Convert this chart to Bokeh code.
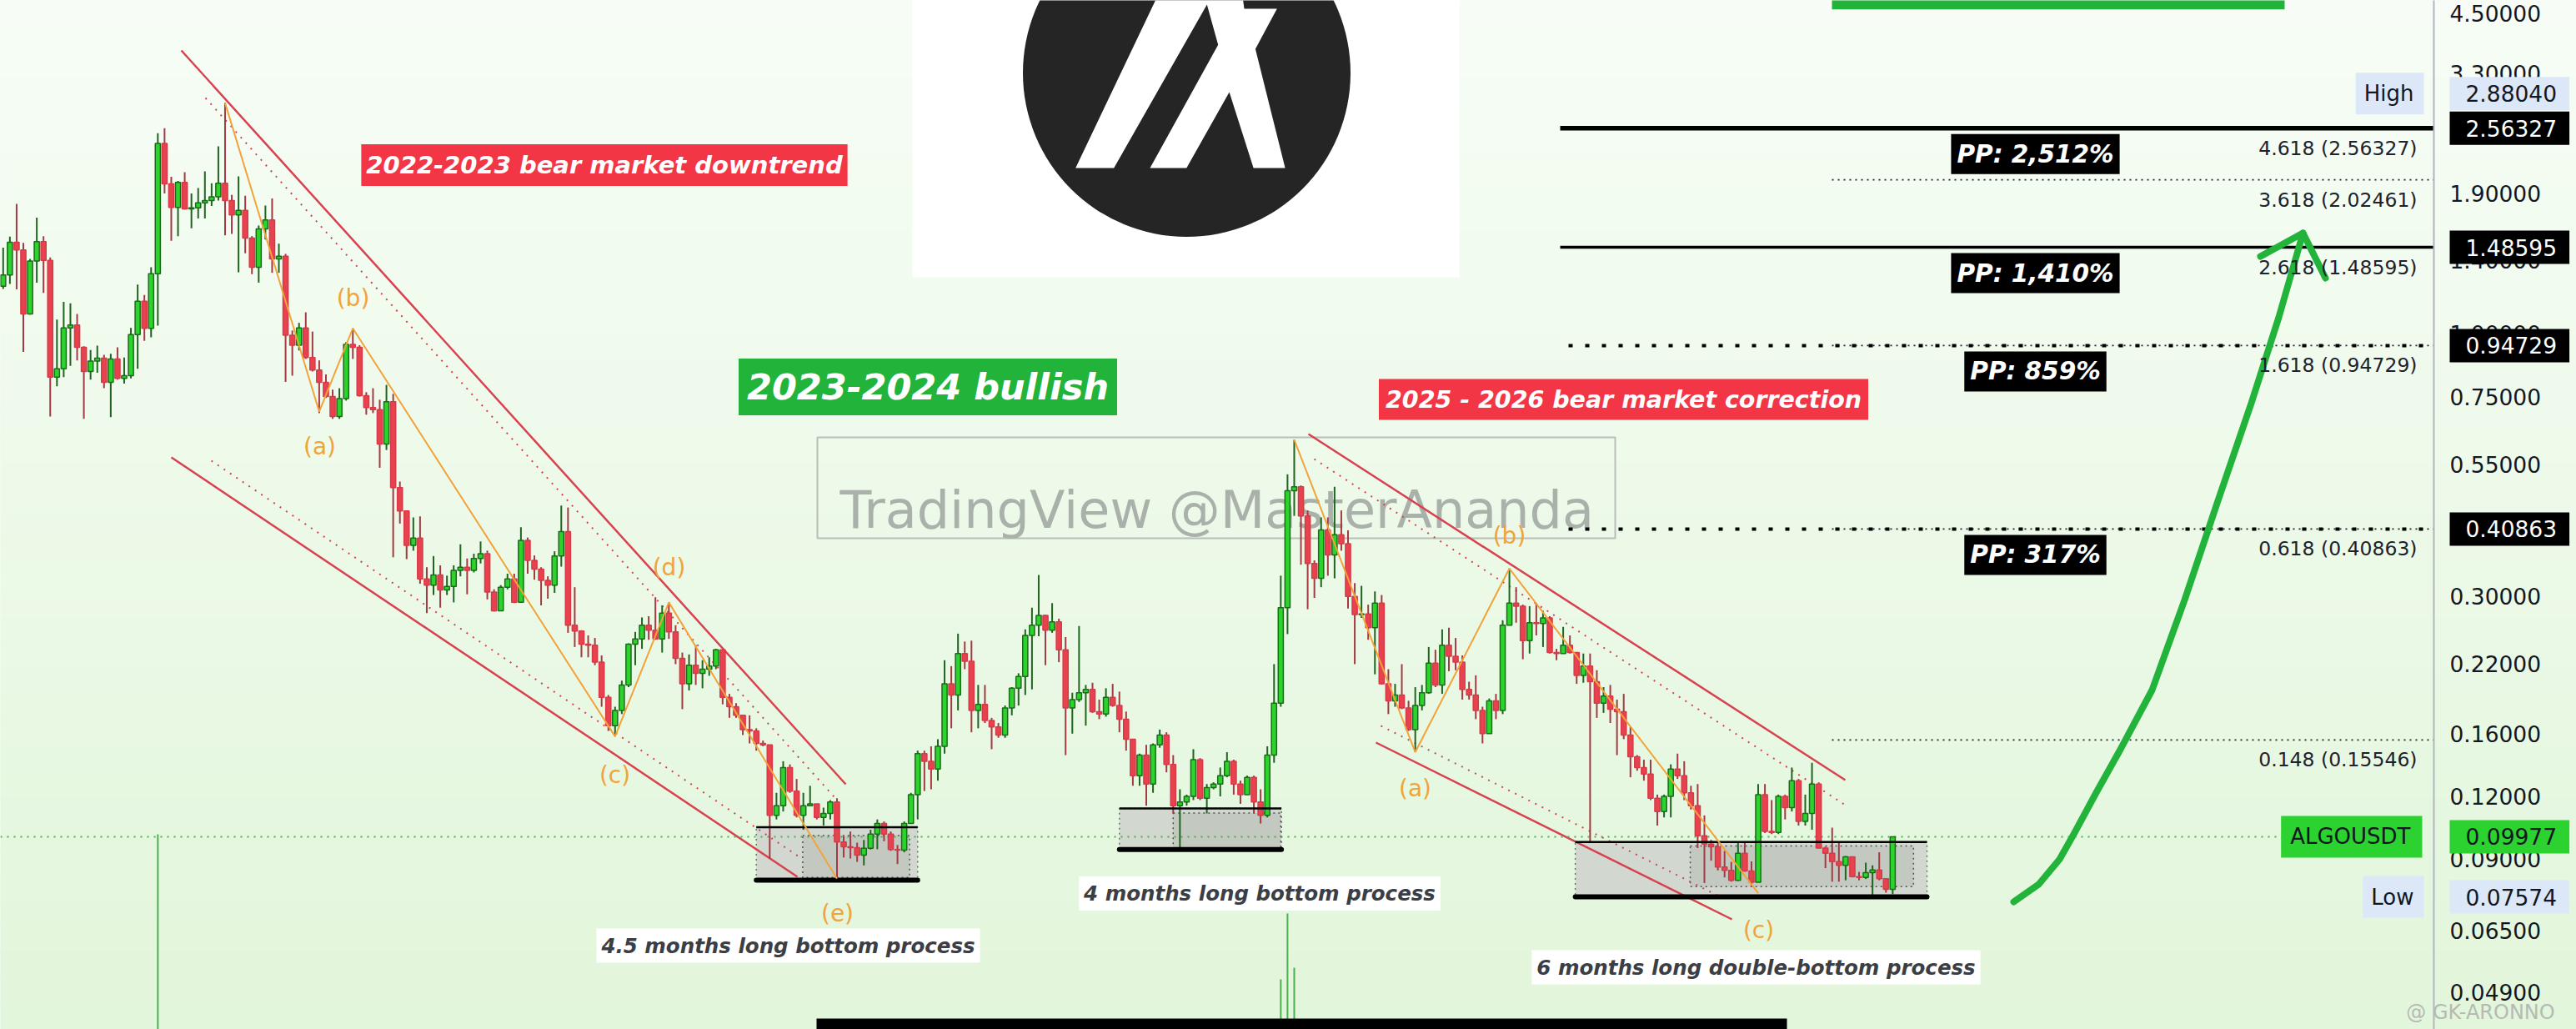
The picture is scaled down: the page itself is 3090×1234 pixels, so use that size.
import math
from bokeh.plotting import figure
from bokeh.models import Range1d, LinearScale, Label, ColumnDataSource
from bokeh.core.properties import value
from bokeh.embed import file_html
from bokeh.resources import INLINE

# ---------------- ALGOUSDT weekly candles (each open = previous close) ----------------
first_open = 1.243
closes = [
    1.309, 1.521, 1.468, 1.095, 1.395, 1.525, 1.400, 0.820, 0.852, 1.027,
    1.041, 0.940, 0.841, 0.882, 0.894, 0.800, 0.891, 0.815, 0.825, 0.996,
    1.161, 1.025, 1.317, 2.391, 1.988, 1.784, 2.001, 1.772, 1.781, 1.822,
    1.841, 1.872, 1.993, 1.841, 1.724, 1.760, 1.550, 1.356, 1.617, 1.685,
    1.409, 1.427, 0.993, 0.949, 1.027, 0.897, 0.847, 0.800, 0.750, 0.684,
    0.743, 0.952, 0.940, 0.753, 0.713, 0.706, 0.603, 0.732, 0.494, 0.444,
    0.379, 0.392, 0.325, 0.316, 0.331, 0.309, 0.314, 0.338, 0.343, 0.338,
    0.357, 0.365, 0.306, 0.281, 0.313, 0.325, 0.292, 0.388, 0.354, 0.340,
    0.323, 0.316, 0.361, 0.404, 0.263, 0.256, 0.241, 0.240, 0.222, 0.189,
    0.166, 0.178, 0.200, 0.241, 0.247, 0.263, 0.257, 0.247, 0.278, 0.255,
    0.226, 0.201, 0.219, 0.211, 0.215, 0.218, 0.235, 0.189, 0.181, 0.174,
    0.163, 0.162, 0.153, 0.152, 0.110, 0.115, 0.137, 0.123, 0.110, 0.115,
    0.116, 0.109, 0.111, 0.117, 0.0974, 0.0953, 0.0949, 0.0917, 0.0946, 0.101,
    0.106, 0.101, 0.0941, 0.0938, 0.106, 0.121, 0.146, 0.141, 0.136, 0.151,
    0.201, 0.191, 0.231, 0.223, 0.178, 0.183, 0.170, 0.165, 0.159, 0.180,
    0.197, 0.208, 0.251, 0.263, 0.275, 0.257, 0.267, 0.235, 0.180, 0.187,
    0.193, 0.196, 0.177, 0.175, 0.189, 0.182, 0.171, 0.156, 0.132, 0.145,
    0.127, 0.152, 0.159, 0.139, 0.115, 0.117, 0.120, 0.142, 0.119, 0.125,
    0.127, 0.132, 0.141, 0.127, 0.121, 0.131, 0.117, 0.110, 0.145, 0.184,
    0.285, 0.487, 0.496, 0.434, 0.349, 0.326, 0.407, 0.363, 0.398, 0.382,
    0.300, 0.276, 0.277, 0.260, 0.291, 0.201, 0.186, 0.191, 0.180, 0.163,
    0.182, 0.193, 0.221, 0.200, 0.240, 0.228, 0.222, 0.196, 0.191, 0.178,
    0.160, 0.186, 0.178, 0.263, 0.291, 0.287, 0.245, 0.266, 0.265, 0.272,
    0.232, 0.231, 0.240, 0.232, 0.209, 0.218, 0.203, 0.184, 0.190, 0.179,
    0.177, 0.159, 0.144, 0.137, 0.133, 0.119, 0.112, 0.120, 0.136, 0.132,
    0.122, 0.115, 0.1002, 0.0965, 0.0953, 0.0868, 0.0855, 0.0817, 0.0925, 0.0853,
    0.0810, 0.121, 0.1022, 0.1018, 0.120, 0.114, 0.129, 0.107, 0.111, 0.127,
    0.0947, 0.0925, 0.0890, 0.0875, 0.0910, 0.0831, 0.0828, 0.0846, 0.0857, 0.0823,
    0.0784, 0.09977,
]
highs = [
    1.483, 1.561, 1.813, 1.517, 1.409, 1.702, 1.564, 1.418, 1.067, 1.157,
    1.149, 1.095, 0.944, 0.928, 0.947, 0.908, 0.912, 0.940, 0.897, 1.027,
    1.253, 1.194, 1.356, 2.507, 2.565, 2.052, 2.013, 2.097, 1.901, 1.950,
    2.105, 1.993, 2.361, 2.8804, 1.889, 2.057, 1.882, 1.564, 1.642, 1.800,
    1.858, 1.511, 1.442, 1.015, 1.051, 1.103, 1.010, 0.885, 0.830, 0.774,
    0.779, 0.962, 1.025, 0.949, 0.765, 0.779, 0.739, 0.791, 0.759, 0.508,
    0.444, 0.431, 0.433, 0.343, 0.361, 0.346, 0.330, 0.346, 0.381, 0.357,
    0.365, 0.386, 0.370, 0.310, 0.316, 0.333, 0.333, 0.412, 0.393, 0.362,
    0.343, 0.329, 0.369, 0.455, 0.451, 0.313, 0.257, 0.251, 0.248, 0.229,
    0.191, 0.181, 0.204, 0.242, 0.255, 0.2725, 0.274, 0.299, 0.288, 0.292,
    0.263, 0.232, 0.230, 0.240, 0.224, 0.227, 0.236, 0.235, 0.192, 0.184,
    0.174, 0.174, 0.164, 0.155, 0.152, 0.122, 0.141, 0.139, 0.130, 0.122,
    0.126, 0.116, 0.114, 0.118, 0.119, 0.100, 0.1022, 0.0971, 0.0983, 0.103,
    0.108, 0.107, 0.1022, 0.0961, 0.107, 0.122, 0.148, 0.148, 0.151, 0.156,
    0.224, 0.218, 0.253, 0.244, 0.245, 0.200, 0.200, 0.172, 0.168, 0.182,
    0.198, 0.211, 0.258, 0.285, 0.331, 0.276, 0.291, 0.271, 0.249, 0.193,
    0.262, 0.200, 0.202, 0.187, 0.197, 0.201, 0.194, 0.177, 0.155, 0.146,
    0.152, 0.153, 0.163, 0.161, 0.145, 0.124, 0.121, 0.149, 0.143, 0.127,
    0.128, 0.137, 0.147, 0.142, 0.129, 0.132, 0.132, 0.124, 0.151, 0.220,
    0.330, 0.525, 0.615, 0.499, 0.445, 0.354, 0.431, 0.431, 0.496, 0.445,
    0.406, 0.319, 0.315, 0.289, 0.307, 0.302, 0.215, 0.201, 0.220, 0.186,
    0.198, 0.200, 0.238, 0.235, 0.258, 0.260, 0.248, 0.229, 0.203, 0.209,
    0.181, 0.188, 0.192, 0.269, 0.341, 0.313, 0.289, 0.287, 0.291, 0.281,
    0.274, 0.236, 0.261, 0.251, 0.232, 0.231, 0.231, 0.214, 0.198, 0.200,
    0.187, 0.192, 0.165, 0.145, 0.142, 0.142, 0.121, 0.121, 0.139, 0.146,
    0.141, 0.126, 0.127, 0.110, 0.0983, 0.0971, 0.0935, 0.0889, 0.0974, 0.0971,
    0.0891, 0.127, 0.127, 0.118, 0.121, 0.121, 0.137, 0.130, 0.121, 0.140,
    0.128, 0.0953, 0.104, 0.0971, 0.0913, 0.0909, 0.0849, 0.0886, 0.0875, 0.0929,
    0.0822, 0.0998,
]
lows = [
    1.228, 1.256, 1.225, 0.920, 1.092, 1.264, 1.206, 0.684, 0.786, 0.820,
    0.863, 0.885, 0.677, 0.810, 0.836, 0.779, 0.682, 0.810, 0.796, 0.815,
    0.852, 0.968, 0.984, 1.038, 1.901, 1.531, 1.564, 1.767, 1.621, 1.695,
    1.695, 1.795, 1.841, 1.570, 1.580, 1.325, 1.446, 1.314, 1.264, 1.540,
    1.322, 1.322, 0.802, 0.825, 0.926, 0.891, 0.841, 0.695, 0.745, 0.677,
    0.677, 0.736, 0.891, 0.750, 0.690, 0.695, 0.541, 0.587, 0.359, 0.419,
    0.356, 0.370, 0.318, 0.278, 0.302, 0.285, 0.302, 0.292, 0.329, 0.303,
    0.335, 0.349, 0.296, 0.280, 0.281, 0.310, 0.291, 0.292, 0.333, 0.324,
    0.288, 0.297, 0.305, 0.344, 0.254, 0.238, 0.227, 0.227, 0.219, 0.181,
    0.162, 0.158, 0.175, 0.198, 0.219, 0.236, 0.246, 0.246, 0.232, 0.247,
    0.220, 0.179, 0.195, 0.200, 0.197, 0.2086, 0.215, 0.183, 0.172, 0.172,
    0.159, 0.153, 0.148, 0.151, 0.0903, 0.108, 0.112, 0.122, 0.109, 0.103,
    0.115, 0.108, 0.105, 0.108, 0.0823, 0.0907, 0.0903, 0.0889, 0.0875, 0.0941,
    0.0942, 0.0977, 0.0935, 0.0880, 0.0929, 0.106, 0.108, 0.123, 0.124, 0.129,
    0.146, 0.164, 0.178, 0.215, 0.161, 0.164, 0.168, 0.149, 0.157, 0.157,
    0.174, 0.182, 0.191, 0.196, 0.250, 0.219, 0.254, 0.222, 0.145, 0.160,
    0.185, 0.166, 0.176, 0.171, 0.173, 0.181, 0.161, 0.148, 0.126, 0.126,
    0.115, 0.122, 0.150, 0.134, 0.111, 0.0947, 0.115, 0.118, 0.118, 0.111,
    0.124, 0.120, 0.131, 0.121, 0.116, 0.121, 0.111, 0.106, 0.109, 0.140,
    0.181, 0.2525, 0.434, 0.347, 0.283, 0.298, 0.313, 0.330, 0.326, 0.370,
    0.284, 0.220, 0.272, 0.246, 0.210, 0.2005, 0.175, 0.181, 0.179, 0.162,
    0.147, 0.178, 0.192, 0.198, 0.192, 0.213, 0.214, 0.187, 0.187, 0.171,
    0.153, 0.160, 0.171, 0.175, 0.264, 0.266, 0.225, 0.231, 0.251, 0.238,
    0.231, 0.224, 0.231, 0.231, 0.201, 0.202, 0.0971, 0.172, 0.176, 0.168,
    0.145, 0.156, 0.131, 0.135, 0.129, 0.118, 0.105, 0.109, 0.109, 0.130,
    0.118, 0.113, 0.0947, 0.0807, 0.0894, 0.0855, 0.0828, 0.0812, 0.0815, 0.0850,
    0.0792, 0.0812, 0.1015, 0.101, 0.101, 0.108, 0.112, 0.105, 0.105, 0.103,
    0.0945, 0.0864, 0.0812, 0.0812, 0.0817, 0.0828, 0.0817, 0.0822, 0.07574, 0.0817,
    0.0772, 0.0767,
]

# visible volume spikes (bar index, volume in millions)
vol_bars = [23, 190, 191, 192]
vol_values = [936, 240, 556, 296]

# Fibonacci trend-based extension
fib_ratios = ["4.618", "3.618", "2.618", "1.618", "0.618", "0.148"]
fib_levels = [2.56327, 2.02461, 1.48595, 0.94729, 0.40863, 0.15546]
pp_texts = ["PP: 2,512%", "PP: 1,410%", "PP: 859%", "PP: 317%"]
pp_levels = [2.56327, 1.48595, 0.94729, 0.40863]
solid_targets = [2.56327, 1.48595]
dotted_targets = [0.94729, 0.40863]

symbol = "ALGOUSDT"
last_price = 0.09977
range_high = 2.88040
range_low = 0.07574

price_ticks = [4.5, 3.3, 1.9, 1.4, 1.0, 0.75, 0.55, 0.3, 0.22, 0.16, 0.12, 0.09, 0.065, 0.049]

# corrective wave pivots (bar index, price)
wave1_bars = [33, 47, 52, 91, 99, 124]
wave1_prices = [2.8804, 0.70, 1.025, 0.158, 0.292, 0.0823]
wave2_bars = [192, 210, 224, 261]
wave2_prices = [0.615, 0.147, 0.341, 0.0770]

# accumulation zones: outer range and inner dotted range
zone_left = [112.0, 166.0, 233.8]
zone_right = [136.0, 190.1, 286.1]
zone_top = [0.1042, 0.1136, 0.0974]
zone_bottom = [0.0818, 0.0941, 0.07574]
inner_left = [118.9, 174.0, 250.9]
inner_right = [134.8, 190.0, 284.1]
inner_top = [0.1003, 0.1112, 0.0956]
inner_bottom = [0.0828, 0.0945, 0.0794]

# ---------------- canvas geometry ----------------
W, H = 3090, 1234
SCALE_X = 2919                 # pixel column of the price-scale border
X0, DX = 3.3, 8.066            # pixel of bar 0 and bar spacing


def bar_at(px):
    return (px - X0) / DX


def price_at(py):
    return 0.049 * 10 ** ((1189.0 - py) / 602.6)


def py_of(price):
    return 1189.0 - 602.6 * math.log10(price / 0.049)


p = figure(width=W, height=H,
           x_range=Range1d(bar_at(0), bar_at(W)),
           y_range=Range1d(price_at(H), price_at(0)),
           y_axis_type="log", y_axis_location=None, x_axis_location=None,
           toolbar_location=None, output_backend="svg",
           min_border_left=0, min_border_right=0,
           min_border_top=0, min_border_bottom=0)
p.outline_line_color = None
p.grid.visible = False
p.background_fill_color = "#eef9ea"
p.border_fill_color = "#eef9ea"

# soft vertical gradient behind the chart
n_bands = 40
top_rgb, bot_rgb = (247, 253, 246), (226, 246, 219)
band_top, band_bot, band_col = [], [], []
for k in range(n_bands):
    t = k / (n_bands - 1)
    r, g, b = (round(top_rgb[i] + (bot_rgb[i] - top_rgb[i]) * t) for i in range(3))
    band_top.append(price_at(H * k / n_bands - 1))
    band_bot.append(price_at(H * (k + 1) / n_bands + 1))
    band_col.append("#%02x%02x%02x" % (r, g, b))
p.quad(left=bar_at(-5), right=bar_at(W + 5), top=band_top, bottom=band_bot,
       fill_color=band_col, line_color=None)

# ---------------- logo panel ----------------
p.quad(left=bar_at(1094), right=bar_at(1750), top=price_at(-20), bottom=price_at(332),
       fill_color="white", line_color=None)
p.scatter(x=[bar_at(1423)], y=[price_at(87)], size=393, marker="circle",
          fill_color="#252525", line_color=None)
logo_px = [(1289.7, 201), (1335.7, 201), (1447.3, 5), (1460.7, 53.3), (1379.0, 201),
           (1422.8, 201), (1474.1, 110), (1503.1, 201), (1541.1, 201), (1505.4, 58.3),
           (1531.3, 10), (1492.0, 10), (1488.0, -20), (1395.0, -20)]
p.patch(x=[bar_at(a) for a, b in logo_px], y=[price_at(b) for a, b in logo_px],
        fill_color="white", line_color=None)

# cut-off caption box at the top edge
p.quad(left=bar_at(2197), right=bar_at(2740), top=price_at(-10), bottom=price_at(10.7),
       fill_color="#22b33a", line_color=None)

# ---------------- volume spikes ----------------
p.extra_y_ranges = {"vol": Range1d(0, 4936)}
p.extra_y_scales = {"vol": LinearScale()}
p.segment(x0=vol_bars, y0=[0] * len(vol_bars), x1=vol_bars, y1=vol_values,
          y_range_name="vol", line_color="#4caf50", line_width=2)

p.quad(left=bar_at(979), right=bar_at(2143), top=price_at(1221), bottom=price_at(1250),
       fill_color="black", line_color=None)

# ---------------- accumulation zones ----------------
p.quad(left=zone_left, right=zone_right, top=zone_top, bottom=zone_bottom,
       fill_color="#d2d8d0", line_color="#6f736f", line_dash="2 4", line_width=1.5)
p.quad(left=inner_left, right=inner_right, top=inner_top, bottom=inner_bottom,
       fill_color="#c3c9c1", line_color="#4f534f", line_dash="2 4", line_width=1.5)

# watermark
p.quad(left=bar_at(980), right=bar_at(1937), top=price_at(524), bottom=price_at(645),
       fill_color=None, line_color="#b9beb9", line_width=2)
p.text(x=[bar_at(1007)], y=[price_at(611)], text=["TradingView @MasterAnanda"],
       text_font=value("DejaVu Sans"), text_font_size="62px", text_color="#aab1aa",
       text_baseline="alphabetic", text_align="left")

# ---------------- channels ----------------
red = "#d8424f"
solid_channels = [((217, 60), (1014, 940)), ((205, 548), (956, 1051)),
                  ((1569, 520), (2213, 935)), ((1650, 890), (2077, 1102))]
dotted_channels = [((246, 117), (1000, 955)), ((253, 552), (961, 1029)),
                   ((1576, 550), (2213, 965)), ((1656, 870), (2065, 1076))]
p.segment(x0=[bar_at(a[0]) for a, b in solid_channels], y0=[price_at(a[1]) for a, b in solid_channels],
          x1=[bar_at(b[0]) for a, b in solid_channels], y1=[price_at(b[1]) for a, b in solid_channels],
          line_color=red, line_width=2.5)
p.segment(x0=[bar_at(a[0]) for a, b in dotted_channels], y0=[price_at(a[1]) for a, b in dotted_channels],
          x1=[bar_at(b[0]) for a, b in dotted_channels], y1=[price_at(b[1]) for a, b in dotted_channels],
          line_color=red, line_width=2, line_dash="2 7")

# ---------------- fib levels ----------------
x_end = bar_at(SCALE_X)
p.segment(x0=[bar_at(2197)] * len(fib_levels), y0=fib_levels, x1=[x_end] * len(fib_levels),
          y1=fib_levels, line_color="#1e222d", line_width=1.8, line_dash="2 5")
p.segment(x0=[bar_at(1871)] * 2, y0=solid_targets, x1=[x_end] * 2, y1=solid_targets,
          line_color="black", line_width=[5.5, 3.5])
p.segment(x0=[bar_at(1881)] * 2, y0=dotted_targets, x1=[x_end] * 2, y1=dotted_targets,
          line_color="black", line_width=4, line_dash="5 15")

# current price line
p.segment(x0=[bar_at(0)], y0=[last_price], x1=[bar_at(2749)], y1=[last_price],
          line_color="#3cb54a", line_width=2, line_dash="2 6")

# ---------------- candles ----------------
opens = [first_open] + closes[:-1]
hi = [max(h, o, c) for h, o, c in zip(highs, opens, closes)]
lo = [min(l, o, c) for l, o, c in zip(lows, opens, closes)]
rising = [c >= o for o, c in zip(opens, closes)]
src = ColumnDataSource(dict(
    x=list(range(len(closes))),
    hi=hi, lo=lo,
    top=[max(o, c) for o, c in zip(opens, closes)],
    bot=[min(o, c) for o, c in zip(opens, closes)],
    fill=["#2bd32b" if r else "#e8424f" for r in rising],
    edge=["#1c6b1c" if r else "#d63a48" for r in rising],
    wick=["#1f641f" if r else "#a23a43" for r in rising],
))
p.segment(x0="x", y0="lo", x1="x", y1="hi", line_color="wick", line_width=2, source=src)
p.vbar(x="x", width=0.76, top="top", bottom="bot", fill_color="fill",
       line_color="edge", line_width=1.5, source=src)

# zone boundary lines
p.segment(x0=zone_left, y0=zone_top, x1=zone_right, y1=zone_top,
          line_color="black", line_width=2.5)
p.segment(x0=zone_left, y0=zone_bottom, x1=zone_right, y1=zone_bottom,
          line_color="black", line_width=6, line_cap="round")

# wave paths
orange = "#f2a33a"
p.line(wave1_bars, wave1_prices, line_color=orange, line_width=2)
p.line(wave2_bars, wave2_prices, line_color=orange, line_width=2)

# projected move arrow
arrow_px = [(2415, 1081), (2445, 1060), (2470, 1030), (2487, 1000), (2514, 950), (2542, 900),
            (2581, 827), (2620, 719), (2660, 600), (2700, 483), (2733, 380), (2762, 279)]
head_px = [(2711, 307), (2762, 279), (2789, 333)]
p.line([bar_at(a) for a, b in arrow_px], [price_at(b) for a, b in arrow_px],
       line_color="#22b33a", line_width=8, line_cap="round", line_join="round")
p.line([bar_at(a) for a, b in head_px], [price_at(b) for a, b in head_px],
       line_color="#22b33a", line_width=8, line_cap="round", line_join="round")

# ---------------- price scale ----------------
p.segment(x0=[bar_at(SCALE_X)], y0=[price_at(-5)], x1=[bar_at(SCALE_X)], y1=[price_at(H + 5)],
          line_color="#b2b5be", line_width=2)
AX_TXT = 2938
# keep scale labels fully inside the top edge
tick_label_y = [min(t, price_at(15)) for t in price_ticks]
p.text(x=[bar_at(AX_TXT)] * len(price_ticks), y=tick_label_y,
       text=[f"{t:.5f}" for t in price_ticks], text_font=value("DejaVu Sans"),
       text_font_size="26.5px", text_color="#131722", text_align="left",
       text_baseline="middle")


# ---------------- text ----------------
def tag(px, py, text, size, color, bg=None, align="center", style="normal",
        pad=None, alpha=1.0, font="DejaVu Sans"):
    lab = Label(x=bar_at(px), y=price_at(py), text=text, text_font=font,
                text_font_size=f"{size}px", text_color=color, text_align=align,
                text_baseline="middle", text_font_style=style)
    if bg is not None:
        lab.background_fill_color = bg
        lab.background_fill_alpha = alpha
    if pad is not None:
        lab.padding = dict(left=pad[0], right=pad[1], top=pad[2], bottom=pad[3])
    p.add_layout(lab)


RED_BG, GREEN_BG = "#f23645", "#22b33a"
tag(724.5, 197.5, "2022-2023 bear market downtrend", 29, "white", RED_BG,
    style="bold italic", pad=(6, 6, 8, 8))
tag(1112.5, 463.5, "2023-2024 bullish", 43, "white", GREEN_BG,
    style="bold italic", pad=(10, 10, 9, 9))
tag(1947, 478.5, "2025 - 2026 bear market correction", 28.5, "white", RED_BG,
    style="bold italic", pad=(8, 8, 8, 8))

dark_txt = "#3b3e45"
tag(945, 1133.5, "4.5 months long bottom process", 24.5, dark_txt, "white",
    style="bold italic", pad=(6, 6, 6, 6), alpha=0.95)
tag(1510.5, 1071, "4 months long bottom process", 24.5, dark_txt, "white",
    style="bold italic", pad=(6, 6, 6, 6), alpha=0.95)
tag(2106, 1159.5, "6 months long double-bottom process", 24.5, dark_txt, "white",
    style="bold italic", pad=(6, 6, 6, 6), alpha=0.95)

wave_tags = [(423, 357, "(b)"), (383, 535, "(a)"), (737, 929, "(c)"), (802, 680, "(d)"),
             (1004, 1095, "(e)"), (1697, 945, "(a)"), (1810, 642, "(b)"), (2109, 1115, "(c)")]
for wx, wy, wt in wave_tags:
    tag(wx, wy, wt, 28, orange)

for ratio, level in zip(fib_ratios, fib_levels):
    tag(2899, py_of(level) + 24, f"{ratio} ({level:.5f})", 23.5, "#1e222d", align="right")

for txt, level in zip(pp_texts, pp_levels):
    tag(2441, py_of(level) + 31, txt, 29.5, "white", "black", style="bold italic",
        pad=(7, 7, 7, 7))

# price-scale badges
BADGE_PAD = (19, 15, 10, 10)
for level in pp_levels:
    tag(AX_TXT, py_of(level), f"{level:.5f}", 26.5, "white", "black", align="left",
        pad=BADGE_PAD)

hl_bg = "#dce7f8"
high_y = py_of(range_high) - 11
tag(2907, high_y, "High", 26, "#131722", hl_bg, align="right", pad=(10, 12, 10, 10))
tag(AX_TXT, high_y, f"{range_high:.5f}", 26.5, "#131722", hl_bg, align="left", pad=BADGE_PAD)
tag(2907, py_of(range_low), "Low", 26, "#131722", hl_bg, align="right", pad=(10, 12, 10, 10))
tag(AX_TXT, py_of(range_low), f"{range_low:.5f}", 26.5, "#131722", hl_bg, align="left",
    pad=BADGE_PAD)

last_bg = "#2cd22f"
tag(2905, py_of(last_price), symbol, 26, "#131722", last_bg, align="right", pad=(11, 14, 10, 10))
tag(AX_TXT, py_of(last_price), f"{last_price:.5f}", 26.5, "#131722", last_bg, align="left",
    pad=BADGE_PAD)

tag(2975, 1213, "@ GK-ARONNO", 24, "#b5bab5", alpha=0.9)

open("out.html", "w").write(file_html(p, INLINE))
